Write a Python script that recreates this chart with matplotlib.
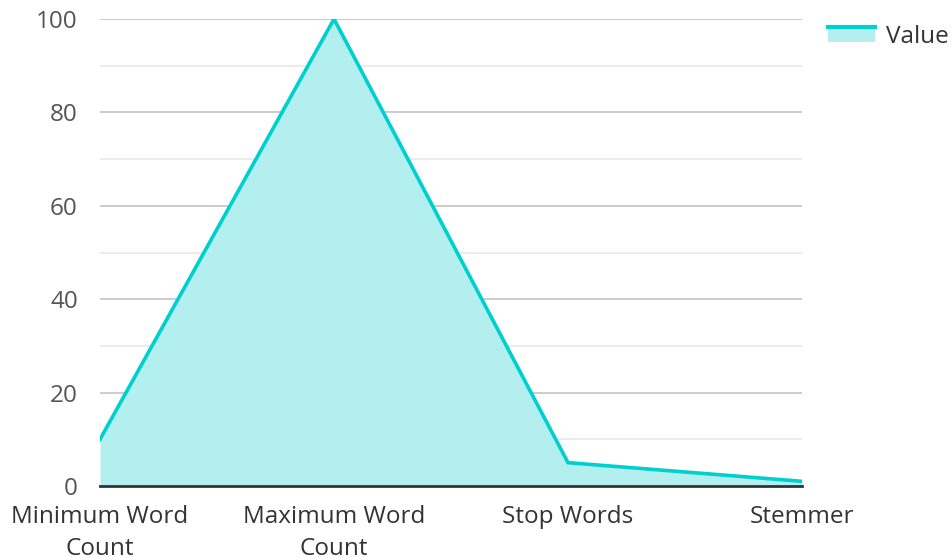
import matplotlib

matplotlib.use("Agg")
import matplotlib.pyplot as plt
from matplotlib.legend_handler import HandlerBase
from matplotlib.lines import Line2D
from matplotlib.patches import Patch, Rectangle

categories = ["Minimum Word\nCount", "Maximum Word\nCount", "Stop Words", "Stemmer"]
values = [10, 100, 5, 1]
series_name = "Value"

LINE_COLOR = "#00cfcf"
FILL_COLOR = "#b2efee"

plt.rcParams["font.family"] = ["Open Sans", "DejaVu Sans"]


class AreaHandler(HandlerBase):
    # filled box with the stroke along its top edge
    def create_artists(self, legend, orig_handle, xdescent, ydescent,
                       width, height, fontsize, trans):
        box = Rectangle((-xdescent, -ydescent), width, height,
                        facecolor=FILL_COLOR, edgecolor="none", transform=trans)
        top = Line2D([-xdescent, -xdescent + width],
                     [-ydescent + height, -ydescent + height],
                     color=LINE_COLOR, linewidth=3, transform=trans)
        return [box, top]


fig = plt.figure(figsize=(9.52, 5.58), dpi=100)
ax = fig.add_axes([100 / 952, 72 / 558, 702 / 952, 467 / 558])

xs = list(range(len(categories)))
ax.fill_between(xs, values, 0, color=FILL_COLOR, linewidth=0, zorder=2)
ax.plot(xs, values, color=LINE_COLOR, linewidth=2.6, zorder=3,
        solid_joinstyle="miter")

ax.set_xlim(0, len(categories) - 1)
ax.set_ylim(0, 100)
ax.set_yticks(range(0, 101, 20))
ax.set_yticks(range(10, 100, 20), minor=True)
ax.set_xticks(xs)
ax.set_xticklabels(categories, fontsize=17.5, color="#333333", linespacing=1.4)
ax.tick_params(axis="y", which="major", labelsize=17.5, labelcolor="#555555",
               length=0, pad=16)
ax.tick_params(axis="y", which="minor", length=0)
ax.tick_params(axis="x", length=0, pad=14)

ax.grid(axis="y", which="major", color="#c4c4c4", linewidth=1.2, zorder=1)
ax.grid(axis="y", which="minor", color="#e8e8e8", linewidth=1.2, zorder=1)
ax.set_axisbelow(True)
for side in ("top", "right", "left"):
    ax.spines[side].set_visible(False)
ax.spines["bottom"].set_color("#333333")
ax.spines["bottom"].set_linewidth(2)
ax.spines["bottom"].set_zorder(4)

handle = Patch(label=series_name)
fig.legend(handles=[handle], labels=[series_name], handler_map={Patch: AreaHandler()},
           loc="upper left", bbox_to_anchor=(828 / 952, 1 - 25 / 558),
           frameon=False, fontsize=17.5, handlelength=1.95, handleheight=0.6,
           handletextpad=0.45, borderpad=0, borderaxespad=0, labelcolor="#333333")

fig.savefig("out.png", dpi=100)
